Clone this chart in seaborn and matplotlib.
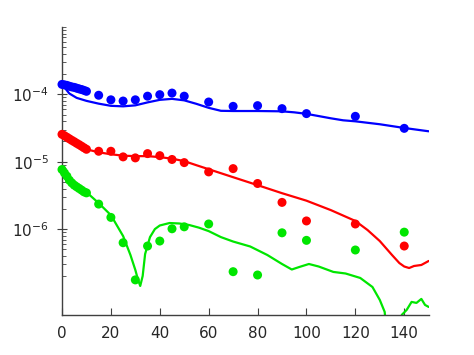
import matplotlib
matplotlib.use("Agg")
import matplotlib.pyplot as plt
import matplotlib.ticker as mticker
import seaborn as sns
import numpy as np
import pandas as pd

# measured points
pt_x = [0, 1, 2, 3, 4, 5, 6, 7, 8, 9, 10, 15, 20, 25, 30, 35, 40, 45, 50,
        60, 70, 80, 90, 100, 120, 140]
blue_pts = [1.406e-4, 1.384e-4, 1.36e-4, 1.32e-4, 1.29e-4, 1.27e-4, 1.236e-4,
            1.206e-4, 1.18e-4, 1.146e-4, 1.11e-4, 9.7e-5, 8.3e-5, 7.96e-5,
            8.3e-5, 9.4e-5, 9.9e-5, 1.045e-4, 9.4e-5, 7.7e-5, 6.64e-5,
            6.8e-5, 6.14e-5, 5.18e-5, 4.72e-5, 3.13e-5]
red_pts = [2.55e-5, 2.43e-5, 2.31e-5, 2.19e-5, 2.08e-5, 1.98e-5, 1.88e-5,
           1.79e-5, 1.70e-5, 1.61e-5, 1.53e-5, 1.43e-5, 1.43e-5, 1.18e-5,
           1.14e-5, 1.32e-5, 1.23e-5, 1.08e-5, 9.7e-6, 7.06e-6, 7.9e-6,
           4.75e-6, 2.49e-6, 1.32e-6, 1.19e-6, 5.6e-7]
green_pts = [7.66e-6, 6.82e-6, 6.10e-6, 5.32e-6, 4.85e-6, 4.49e-6, 4.24e-6,
             4.01e-6, 3.79e-6, 3.57e-6, 3.45e-6, 2.35e-6, 1.49e-6, 6.27e-7,
             1.76e-7, 5.6e-7, 6.64e-7, 1.01e-6, 1.08e-6, 1.19e-6, 2.33e-7,
             2.08e-7, 8.8e-7, 6.8e-7, 4.89e-7, 9.0e-7]

# model curves
blue_x = [0, 3, 6, 10, 15, 20, 25, 30, 35, 40, 45, 50, 55, 60, 65, 70, 80,
          90, 95, 100, 110, 115, 120, 130, 140, 150]
blue_y = [1.41e-4, 1.03e-4, 8.87e-5, 8.01e-5, 7.28e-5, 6.76e-5, 6.64e-5,
          6.87e-5, 7.60e-5, 8.29e-5, 8.58e-5, 8.15e-5, 7.23e-5, 6.31e-5,
          5.70e-5, 5.66e-5, 5.66e-5, 5.60e-5, 5.41e-5, 5.14e-5, 4.41e-5,
          4.12e-5, 3.98e-5, 3.60e-5, 3.17e-5, 2.83e-5]
red_x = [0, 5, 10, 15, 20, 25, 30, 35, 40, 45, 50, 55, 60, 70, 80, 90, 100,
         110, 120, 125, 130, 135, 138, 140, 142, 144, 147, 150]
red_y = [2.55e-5, 1.88e-5, 1.53e-5, 1.38e-5, 1.29e-5, 1.23e-5, 1.21e-5,
         1.21e-5, 1.17e-5, 1.11e-5, 1.02e-5, 8.87e-6, 7.74e-6, 5.89e-6,
         4.49e-6, 3.41e-6, 2.64e-6, 1.91e-6, 1.32e-6, 9.67e-7, 6.64e-7,
         4.12e-7, 3.13e-7, 2.78e-7, 2.64e-7, 2.83e-7, 2.93e-7, 3.36e-7]
green_x = [0, 2, 5, 10, 15, 20, 25, 28, 30, 31, 32, 33, 34, 36, 38, 40, 44,
           48, 52, 56, 60, 65, 70, 77, 84, 90, 94, 97, 101, 105, 111, 116,
           122, 127, 130, 132, 134, 137, 139, 141, 143, 145, 147, 148.5, 150]
green_y = [7.74e-6, 6.31e-6, 4.97e-6, 3.53e-6, 2.43e-6, 1.61e-6, 7.87e-7,
           4.12e-7, 2.47e-7, 1.82e-7, 1.43e-7, 2.01e-7, 4.26e-7, 7.60e-7,
           1.0e-6, 1.13e-6, 1.23e-6, 1.21e-6, 1.15e-6, 1.05e-6, 9.33e-7,
           7.60e-7, 6.53e-7, 5.51e-7, 4.12e-7, 3.03e-7, 2.51e-7, 2.73e-7,
           3.03e-7, 2.78e-7, 2.31e-7, 2.19e-7, 1.88e-7, 1.38e-7, 8.87e-8,
           5.89e-8, 1.0e-8, 1.0e-8, 5.32e-8, 6.31e-8, 8.29e-8, 8.01e-8,
           9.18e-8, 7.48e-8, 6.98e-8]

colors = {"blue": "#0000ff", "red": "#ff0000", "green": "#00e600"}

sns.set_style("white")
plt.rcParams['font.family'] = ['DejaVu Sans']

fig = plt.figure(figsize=(4.74, 3.55), dpi=100)
ax = fig.add_axes([0.1308, 0.1127, 0.9044 - 0.1308, 0.9239 - 0.1127])

curves = [("blue", blue_x, blue_y), ("red", red_x, red_y), ("green", green_x, green_y)]
for name, cx, cy in curves:
    df = pd.DataFrame({"x": cx, "y": cy})
    sns.lineplot(data=df, x="x", y="y", color=colors[name], lw=1.6, ax=ax)

pts = pd.DataFrame({"x": pt_x * 3,
                    "y": blue_pts + red_pts + green_pts,
                    "s": ["blue"] * len(pt_x) + ["red"] * len(pt_x) + ["green"] * len(pt_x)})
sns.scatterplot(data=pts, x="x", y="y", hue="s", palette=colors, s=42,
                edgecolor="none", legend=False, ax=ax, clip_on=False, zorder=3)

ax.set_yscale("log")
ax.set_xlim(0, 150)
ax.set_ylim(5.3e-8, 1e-3)
ax.set_xlabel("")
ax.set_ylabel("")
ax.set_xticks([0, 20, 40, 60, 80, 100, 120, 140])
ax.yaxis.set_major_locator(mticker.FixedLocator([1e-6, 1e-5, 1e-4]))
minors = [m * 10.0 ** e for e in (-7, -6, -5, -4) for m in range(2, 10)]
minors = [v for v in minors if v >= 2e-7] + [1e-3]
ax.yaxis.set_minor_locator(mticker.FixedLocator(minors))
ax.yaxis.set_minor_formatter(mticker.NullFormatter())

sns.despine(ax=ax)
for sp in ("left", "bottom"):
    ax.spines[sp].set_color("#404040")
    ax.spines[sp].set_linewidth(1.0)
ax.tick_params(axis="x", direction="in", length=5, width=0.8, color="#404040",
               labelsize=11, pad=8, bottom=True)
ax.tick_params(axis="y", which="major", direction="inout", length=7, width=0.8,
               color="#404040", labelsize=11, pad=6, left=True)
ax.tick_params(axis="y", which="minor", direction="in", length=3, width=0.6,
               color="#404040", left=True)

fig.savefig("out.png", dpi=100)
